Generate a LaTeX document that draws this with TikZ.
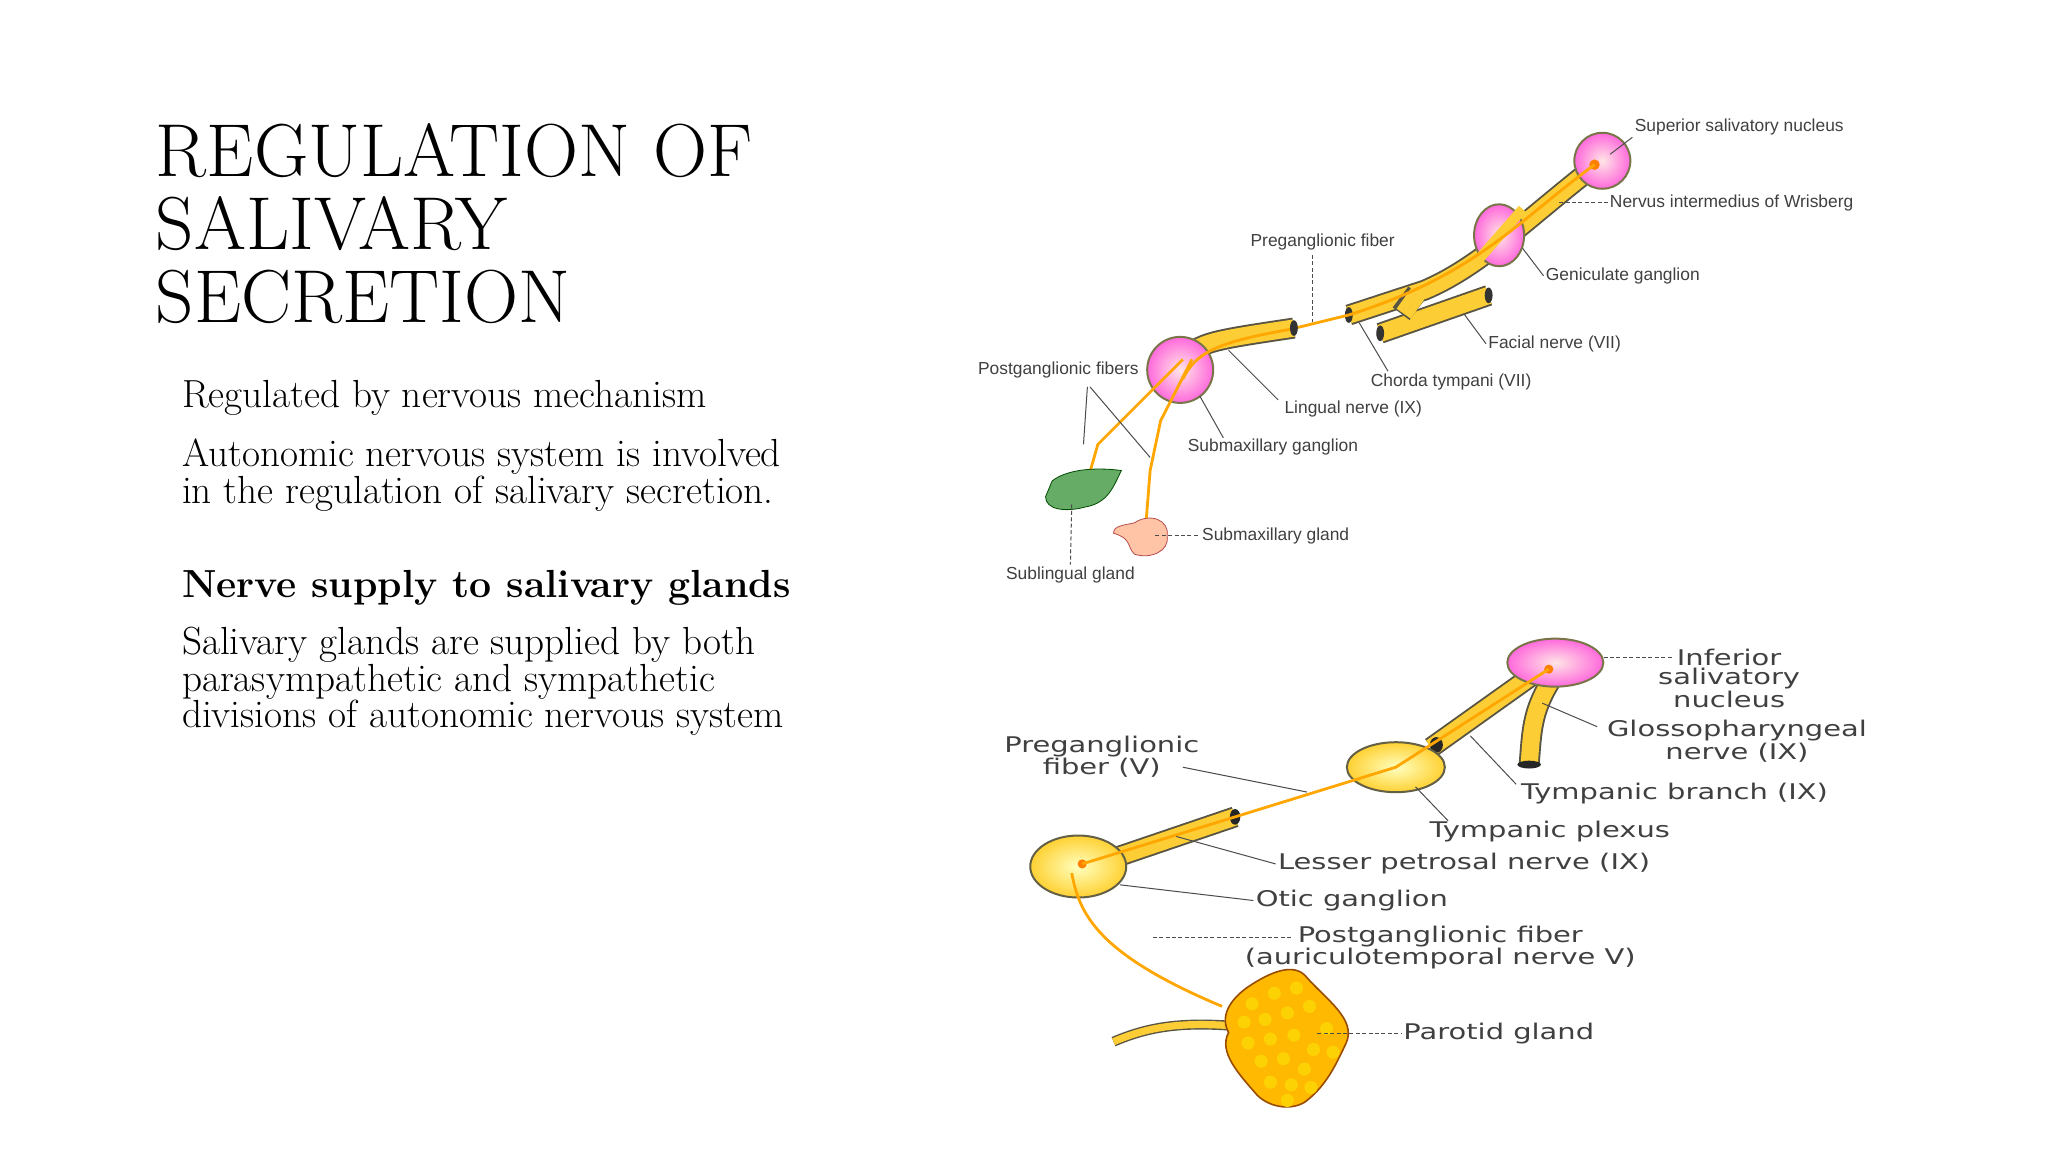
\documentclass[tikz,border=0pt]{standalone}
\usepackage{fontspec}
\usetikzlibrary{shapes.geometric}
\newfontfamily\lab{Liberation Sans}
\newfontfamily\labb[FakeStretch=1.34]{DejaVu Sans}
\begin{document}
\begin{tikzpicture}[x=0.6535pt,y=-0.6535pt,
  tubeo/.style={line width=10.5pt,draw=black!75!yellow,line cap=butt},
  tubei/.style={line width=8.6pt,draw=yellow!55!orange!80!white,line cap=butt},
  fiber/.style={line width=1.4pt,draw=orange!70!yellow},
  lead/.style={line width=0.5pt,draw=black!70},
  dlead/.style={lead,dashed,dash pattern=on 2pt off 1.2pt},
  tl/.style={font=\lab\fontsize{8.7}{10}\selectfont,text=black!75,inner sep=1pt},
  bl/.style={font=\labb\fontsize{10.8}{9.3}\selectfont,text=black!75,inner sep=1pt,align=center},
  nuc/.style={draw=black!60!yellow,line width=1pt,inner color=pink!40!white,outer color=magenta!45!pink},
  yel/.style={draw=black!70!yellow,line width=1pt,inner color=yellow!25,outer color=yellow!55!orange!80},
  tt/.style={anchor=base west,inner sep=0,font=\fontsize{37.5}{38}\selectfont},
  bt/.style={anchor=base west,inner sep=0,font=\fontsize{19.6}{20}\selectfont}]
\useasboundingbox[fill=white] (0,0) rectangle (1567,881.4);
% left text
\node[tt] (ti1) at (119,135) {REGULATION OF};
\node[tt] (ti2) at (119,191) {SALIVARY};
\node[tt] (ti3) at (119,247) {SECRETION};
\node[bt] (t1) at (139,312) {Regulated by nervous mechanism};
\node[bt] (t2) at (139,357) {Autonomic nervous system is involved};
\node[bt] (t2b) at (139,385) {in the regulation of salivary secretion.};
\node[bt,font=\bfseries\fontsize{19.6}{20}\selectfont] (t3) at (139,457) {Nerve supply to salivary glands};
\node[bt] (t4) at (139,501) {Salivary glands are supplied by both};
\node[bt] (t4b) at (139,529) {parasympathetic and sympathetic};
\node[bt] (t4c) at (139,557) {divisions of autonomic nervous system};
% ===== top diagram =====
\coordinate (fa) at (1056,255); \coordinate (fb) at (1139,226);
\draw[tubeo] (fa)--(fb); \draw[tubei] (fa)--(fb);
\draw[tubeo] (1214,132) .. controls (1160,175) and (1130,205) .. (1090,222) -- (1032,241);
\draw[tubei] (1214,132) .. controls (1160,175) and (1130,205) .. (1090,222) -- (1032,241);
\draw[tubeo] (1084,224) -- (1072,240); \draw[tubei] (1086,223) -- (1074,240);
\fill[black!80] (fa) ellipse (3 and 6) (fb) ellipse (3 and 6) (1032,241) ellipse (3 and 6);
\node[nuc,ellipse,minimum width=25pt,minimum height=31pt,inner sep=0] (gen) at (1147,180) {};
\draw[tubei,line width=5pt] (1165,160)--(1130,200);
\node[nuc,circle,minimum size=28pt,inner sep=0] (ssn) at (1226,123) {};
\fill[orange] (1220,126) circle (4);
\draw[fiber] (1220,126) .. controls (1160,170) and (1130,210) .. (1032,241) -- (987,252);
% lingual
\draw[tubeo] (908,275) .. controls (915,262) and (930,260) .. (990,251);
\draw[tubei] (908,275) .. controls (915,262) and (930,260) .. (990,251);
\fill[black!80] (990,251) ellipse (3 and 6);
\node[nuc,circle,minimum size=33pt,inner sep=0] (smg) at (903,283) {};
\draw[fiber] (987,252) .. controls (930,262) and (915,270) .. (905,290);
\draw[fiber] (912,275) -- (888,322) -- (880,360) -- (877,398);
\draw[fiber] (905,275) -- (840,340) -- (832,368);
% glands
\draw[draw=green!30!black,fill=green!45!black!60!white] (805,368) .. controls (815,360) and (835,357) .. (858,360) .. controls (852,372) and (848,385) .. (830,388) .. controls (815,392) and (800,390) .. (800,380) -- cycle;
\node[inner sep=0] (slg) at (828,375) {};
\draw[draw=red!60!black!70,fill=red!35!orange!35] (868,400) .. controls (880,392) and (895,398) .. (893,410) .. controls (895,422) and (880,428) .. (868,424) .. controls (862,418) and (866,412) .. (852,408) .. controls (852,402) and (860,402) .. (868,400) -- cycle;
\node[inner sep=0] (sbg) at (880,410) {};
% top labels
\node[tl,anchor=west] (l1) at (1249,97) {Superior salivatory nucleus};
\draw[lead] (1232,118)--(l1.south west);
\node[tl,anchor=west] (l2) at (1230,155) {Nervus intermedius of Wrisberg};
\draw[dlead] (1193,155)--(l2.west);
\node[tl,anchor=west] (l3) at (1181,211) {Geniculate ganglion};
\draw[lead] (1165,190)--(l3.west);
\node[tl] (l4) at (1012,185) {Preganglionic fiber};
\draw[dlead] (1004,195)--(1004,246);
\node[tl,anchor=west] (l5) at (1137,263) {Facial nerve (VII)};
\draw[lead] (1120,240)--(l5.west);
\node[tl,anchor=west] (l6) at (1047,292) {Chorda tympani (VII)};
\draw[lead] (1040,247)--(1062,284);
\node[tl,anchor=west] (l7) at (981,313) {Lingual nerve (IX)};
\draw[lead] (940,268)--(978,306);
\node[tl,anchor=west] (l8) at (907,342) {Submaxillary ganglion};
\draw[lead] (918,303)--(936,335);
\node[tl,anchor=east] (l9) at (873,283) {Postganglionic fibers};
\draw[lead] (832,296)--(829,340) (834,296)--(880,350);
\node[tl,anchor=north] (l10) at (819,432) {Sublingual gland};
\draw[dlead] (820,386)--(l10.north);
\node[tl,anchor=west] (l11) at (918,410) {Submaxillary gland};
\draw[dlead] (884,410)--(l11.west);
% ===== bottom diagram =====
\draw[tubeo] (1186,522) .. controls (1172,545) and (1172,560) .. (1170,585);
\draw[tubei] (1186,522) .. controls (1172,545) and (1172,560) .. (1170,585);
\fill[black!85] (1170,585) ellipse (9 and 3);
\draw[tubeo] (1175,515) -- (1095,572); \draw[tubei] (1175,515) -- (1095,572);
\fill[black!85] (1099,570) ellipse (5 and 6);
\node[yel,ellipse,minimum width=49pt,minimum height=25pt,inner sep=0] (tp) at (1068,587) {};
\node[nuc,ellipse,minimum width=48pt,minimum height=24pt,inner sep=0] (isn) at (1190,507) {};
\fill[orange] (1185,512) circle (3.5);
\draw[tubeo] (945,625) -- (842,660); \draw[tubei] (945,625) -- (842,660);
\fill[black!85] (945,625) ellipse (4 and 6);
\node[yel,ellipse,minimum width=48pt,minimum height=31pt,inner sep=0] (og) at (825,663) {};
\fill[orange] (828,661) circle (3.5);
\draw[fiber] (1185,512) -- (1068,587) -- (945,625) -- (828,661);
\draw[fiber] (820,668) .. controls (826,700) and (840,730) .. (935,770);
% parotid gland
\draw[tubeo,line width=5pt] (945,785) .. controls (905,782) and (880,785) .. (852,797);
\draw[tubei,line width=3.6pt] (945,785) .. controls (905,782) and (880,785) .. (852,797);
\node[inner sep=0] (pg) at (985,800) {};
\draw[draw=orange!60!black,fill=orange!55!yellow,line width=0.8pt] (955,755) .. controls (970,745) and (990,735) .. (1000,748) .. controls (1015,765) and (1038,780) .. (1030,798) .. controls (1022,815) and (1015,830) .. (1000,842) .. controls (990,850) and (972,848) .. (962,838) .. controls (948,822) and (932,805) .. (940,790) .. controls (932,775) and (945,762) .. (955,755) -- cycle;
\foreach \x/\y in {958/768,975/760,992/756,952/782,968/780,985/775,1002/770,1015/787,955/798,972/795,990/792,1005/803,1020/805,965/812,982/810,998/818,972/828,988/830,1003/832,985/842}
  \fill[yellow!70!orange] (\x,\y) circle (5);
% bottom labels
\node[bl,anchor=north] (b1) at (1323,495) {Inferior\\salivatory\\nucleus};
\draw[dlead] (1227,503)--(1279,503);
\node[bl] (b2) at (1329,567) {Glossopharyngeal\\nerve (IX)};
\draw[lead] (1180,538)--(1222,556);
\node[bl,anchor=west] (b3) at (1162,607) {Tympanic branch (IX)};
\draw[lead] (1125,563)--(1160,600);
\node[bl,anchor=west] (b4) at (1092,636) {Tympanic plexus};
\draw[lead] (1083,602)--(1108,628);
\node[bl] (b5) at (843,579) {Preganglionic\\fiber (V)};
\draw[lead] (905,587)--(1000,606);
\node[bl,anchor=west] (b6) at (976,661) {Lesser petrosal nerve (IX)};
\draw[lead] (900,640)--(b6.west);
\node[bl,anchor=west] (b7) at (959,689) {Otic ganglion};
\draw[lead] (857,677)--(b7.west);
\node[bl] (b8) at (1102,725) {Postganglionic fiber\\(auriculotemporal nerve V)};
\draw[dlead] (882,717)--(988,717);
\node[bl,anchor=west] (b9) at (1072,791) {Parotid gland};
\draw[dlead] (1008,791)--(b9.west);
\end{tikzpicture}
\end{document}
